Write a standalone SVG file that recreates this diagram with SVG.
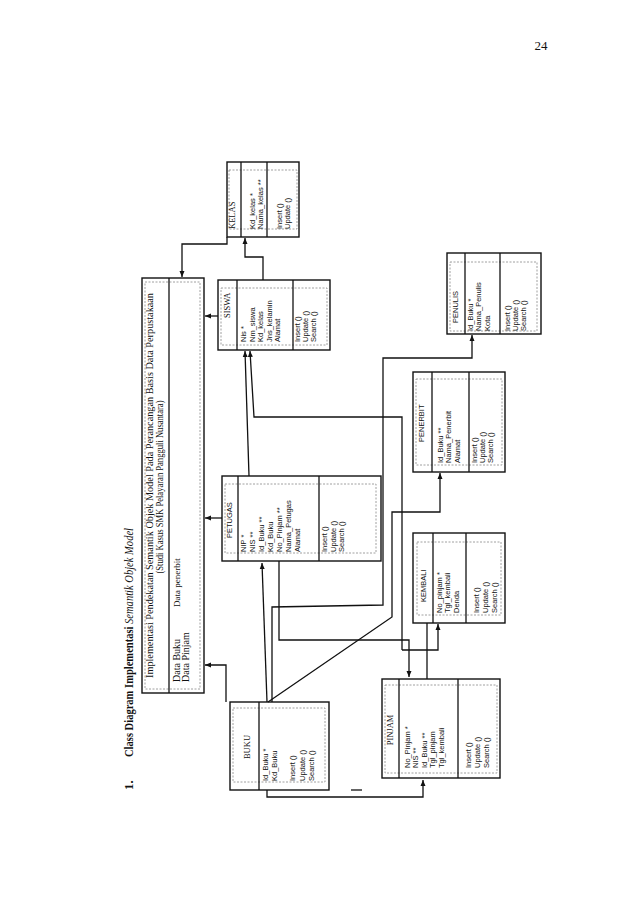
<svg xmlns="http://www.w3.org/2000/svg" width="638" height="903" viewBox="0 0 638 903">
<style>
.box{fill:none;stroke:#111;stroke-width:1.4}
.div{stroke:#111;stroke-width:1.3}
.dash{fill:none;stroke:#888;stroke-width:0.8;stroke-dasharray:2 1.5}
.ln{fill:none;stroke:#111;stroke-width:1.3}
.t{font-family:"Liberation Sans",Arial,sans-serif;font-size:7.5px;fill:#111}
.h{font-family:"Liberation Serif","Times New Roman",serif;font-size:8.5px;fill:#111}
.s{font-family:"Liberation Serif","Times New Roman",serif;fill:#111}
</style>
<defs>
<marker id="ar" markerWidth="6" markerHeight="6" refX="6" refY="3" orient="auto" markerUnits="userSpaceOnUse">
<path d="M0,0.5 L6,3 L0,5.5 z" fill="#111"/>
</marker>
</defs>
<rect width="638" height="903" fill="#fff"/>

<text class="s" x="541" y="50" font-size="13" text-anchor="middle">24</text>

<g id="title">
<text class="s" font-size="13" font-weight="bold" transform="translate(133,790) rotate(-90)">1.</text>
<text class="s" font-size="13" font-weight="bold" transform="translate(133,757) rotate(-90)" textLength="229" lengthAdjust="spacingAndGlyphs">Class Diagram Implementasi <tspan font-style="italic" font-weight="normal">Semantik Objek Model</tspan></text>
</g>

<g id="header">
<rect class="box" x="142" y="278" width="62" height="415"/>
<rect class="dash" x="145" y="282" width="55" height="407"/>
<line class="div" x1="169" y1="278" x2="169" y2="693"/>
<text class="s" font-size="9.5" text-anchor="middle" transform="translate(153,485.5) rotate(-90)" textLength="385" lengthAdjust="spacingAndGlyphs">Implementasi Pendekatan Semantik Objek Model Pada Perancangan Basis Data Perpustakaan</text>
<text class="s" font-size="9.5" text-anchor="middle" transform="translate(163,487) rotate(-90)" textLength="173" lengthAdjust="spacingAndGlyphs">(Studi Kasus SMK Pelayaran Pangguli Nusantara)</text>
<text class="s" font-size="10" transform="translate(180,682) rotate(-90)">Data Buku</text>
<text class="s" font-size="10" transform="translate(189,682) rotate(-90)">Data Pinjam</text>
<text class="s" font-size="9" transform="translate(180,607) rotate(-90)">Data penerbit</text>
</g>

<g id="kelas">
<rect class="box" x="227" y="162" width="72" height="75"/>
<rect class="dash" x="229" y="170" width="68" height="59"/>
<line class="div" x1="241" y1="162" x2="241" y2="237"/>
<line class="div" x1="267" y1="162" x2="267" y2="237"/>
<text class="h" transform="translate(235,229) rotate(-90)">KELAS</text>
<text class="t" transform="translate(255,229) rotate(-90)">Kd_kelas *</text>
<text class="t" transform="translate(263,229) rotate(-90)">Nama_kelas **</text>
<text class="t" transform="translate(282,229) rotate(-90)">Insert ()</text>
<text class="t" transform="translate(290,229) rotate(-90)">Update ()</text>
</g>

<g id="siswa">
<rect class="box" x="218" y="280" width="112" height="70"/>
<rect class="dash" x="221" y="288" width="106" height="57"/>
<line class="div" x1="237" y1="280" x2="237" y2="350"/>
<line class="div" x1="293" y1="280" x2="293" y2="350"/>
<text class="h" transform="translate(230,318) rotate(-90)">SISWA</text>
<text class="t" transform="translate(246,342) rotate(-90)">Nis *</text>
<text class="t" transform="translate(254.5,342) rotate(-90)">Nm_siswa</text>
<text class="t" transform="translate(263,342) rotate(-90)">Kd_kelas</text>
<text class="t" transform="translate(271.5,342) rotate(-90)">Jns_kelamin</text>
<text class="t" transform="translate(280,342) rotate(-90)">Alamat</text>
<text class="t" transform="translate(300,342) rotate(-90)">Insert ()</text>
<text class="t" transform="translate(308,342) rotate(-90)">Update ()</text>
<text class="t" transform="translate(316,342) rotate(-90)">Search ()</text>
</g>

<g id="petugas">
<rect class="box" x="222" y="476" width="159" height="85"/>
<rect class="dash" x="225" y="484" width="151" height="69"/>
<line class="div" x1="238" y1="476" x2="238" y2="561"/>
<line class="div" x1="319" y1="476" x2="319" y2="561"/>
<text class="t" font-size="8" transform="translate(232,538) rotate(-90)">PETUGAS</text>
<text class="t" transform="translate(246,552) rotate(-90)">NIP *</text>
<text class="t" transform="translate(255,552) rotate(-90)">NIS **</text>
<text class="t" transform="translate(264,552) rotate(-90)">Id_Buku **</text>
<text class="t" transform="translate(273,552) rotate(-90)">Kd_Buku</text>
<text class="t" transform="translate(282,552) rotate(-90)">No_Pinjam **</text>
<text class="t" transform="translate(291,552) rotate(-90)">Nama_Petugas</text>
<text class="t" transform="translate(300,552) rotate(-90)">Alamat</text>
<text class="t" transform="translate(327,552) rotate(-90)">Insert ()</text>
<text class="t" transform="translate(336,552) rotate(-90)">Update ()</text>
<text class="t" transform="translate(344,552) rotate(-90)">Search ()</text>
</g>

<g id="buku">
<rect class="box" x="230" y="702" width="99" height="88"/>
<rect class="dash" x="233" y="708" width="92" height="74"/>
<line class="div" x1="259" y1="702" x2="259" y2="790"/>
<text class="h" text-anchor="middle" transform="translate(250,747) rotate(-90)">BUKU</text>
<text class="t" transform="translate(268,781) rotate(-90)">Id_Buku *</text>
<text class="t" transform="translate(277,781) rotate(-90)">Kd_Buku</text>
<text class="t" transform="translate(295,781) rotate(-90)">Insert ()</text>
<text class="t" transform="translate(305,781) rotate(-90)">Update ()</text>
<text class="t" transform="translate(314,781) rotate(-90)">Search ()</text>
</g>

<g id="pinjam">
<rect class="box" x="382" y="679" width="118" height="99"/>
<rect class="dash" x="385" y="685" width="112" height="88"/>
<line class="div" x1="399" y1="679" x2="399" y2="778"/>
<line class="div" x1="458" y1="679" x2="458" y2="778"/>
<text class="h" text-anchor="middle" transform="translate(393,730) rotate(-90)">PINJAM</text>
<text class="t" transform="translate(410,768) rotate(-90)">No_Pinjam *</text>
<text class="t" transform="translate(418,768) rotate(-90)">NIS **</text>
<text class="t" transform="translate(427,768) rotate(-90)">Id_Buku **</text>
<text class="t" transform="translate(435,768) rotate(-90)">Tgl_pinjam</text>
<text class="t" transform="translate(444,768) rotate(-90)">Tgl_kembali</text>
<text class="t" transform="translate(471,768) rotate(-90)">Insert ()</text>
<text class="t" transform="translate(480,768) rotate(-90)">Update ()</text>
<text class="t" transform="translate(489,768) rotate(-90)">Search ()</text>
</g>

<g id="kembali">
<rect class="box" x="413" y="533" width="92" height="90"/>
<rect class="dash" x="417" y="542" width="84" height="73"/>
<line class="div" x1="433" y1="533" x2="433" y2="623"/>
<line class="div" x1="466" y1="533" x2="466" y2="623"/>
<text class="t" font-size="8" transform="translate(426,602) rotate(-90)">KEMBALI</text>
<text class="t" transform="translate(442,613) rotate(-90)">No_pinjam *</text>
<text class="t" transform="translate(450,613) rotate(-90)">Tgl_kembali</text>
<text class="t" transform="translate(459,613) rotate(-90)">Denda</text>
<text class="t" transform="translate(479,613) rotate(-90)">Insert ()</text>
<text class="t" transform="translate(488,613) rotate(-90)">Update ()</text>
<text class="t" transform="translate(497,613) rotate(-90)">Search ()</text>
</g>

<g id="penerbit">
<rect class="box" x="413" y="372" width="92" height="100"/>
<rect class="dash" x="416" y="379" width="86" height="86"/>
<line class="div" x1="432" y1="372" x2="432" y2="472"/>
<line class="div" x1="469" y1="372" x2="469" y2="472"/>
<text class="t" font-size="8" transform="translate(424,442) rotate(-90)">PENERBIT</text>
<text class="t" transform="translate(443,463) rotate(-90)">Id_Buku **</text>
<text class="t" transform="translate(451,463) rotate(-90)">Nama_Penerbit</text>
<text class="t" transform="translate(460,463) rotate(-90)">Alamat</text>
<text class="t" transform="translate(477,463) rotate(-90)">Insert ()</text>
<text class="t" transform="translate(485,463) rotate(-90)">Update ()</text>
<text class="t" transform="translate(493,463) rotate(-90)">Search ()</text>
</g>

<g id="penulis">
<rect class="box" x="447" y="253" width="94" height="81"/>
<rect class="dash" x="450" y="262" width="87" height="69"/>
<line class="div" x1="465" y1="253" x2="465" y2="334"/>
<line class="div" x1="500" y1="253" x2="500" y2="334"/>
<text class="t" font-size="8" transform="translate(458,323) rotate(-90)">PENULIS</text>
<text class="t" transform="translate(473,331) rotate(-90)">Id_Buku *</text>
<text class="t" transform="translate(481,331) rotate(-90)">Nama_Penulis</text>
<text class="t" transform="translate(490,331) rotate(-90)">Kota</text>
<text class="t" transform="translate(510,331) rotate(-90)">Insert ()</text>
<text class="t" transform="translate(518,331) rotate(-90)">Update ()</text>
<text class="t" transform="translate(526,331) rotate(-90)">Search ()</text>
</g>

<g id="connectors">
<polyline class="ln" points="227,237 227,244 182,244 182,277" marker-end="url(#ar)"/>
<polyline class="ln" points="263,280 263,257 245,257 245,238" marker-end="url(#ar)"/>
<polyline class="ln" points="218,316 205,316" marker-end="url(#ar)"/>
<polyline class="ln" points="222,518 205,518" marker-end="url(#ar)"/>
<polyline class="ln" points="226,702 226,665 205,665" marker-end="url(#ar)"/>
<polyline class="ln" points="249,476 245,351" marker-end="url(#ar)"/>
<polyline class="ln" points="402,650 402,417 254,417 250,351" marker-end="url(#ar)"/>
<polyline class="ln" points="402,650 438,650 438,624" marker-end="url(#ar)"/>
<polyline class="ln" points="427,679 427,623"/>
<polyline class="ln" points="279,561 279,640 409,640 409,677" marker-end="url(#ar)"/>
<polyline class="ln" points="267,702 262,563" marker-end="url(#ar)"/>
<polyline class="ln" points="272,702 272,607 383,605 383,358 472,358 472,335" marker-end="url(#ar)"/>
<polyline class="ln" points="268,702 392,617 392,512 440,512 440,473" marker-end="url(#ar)"/>
<polyline class="ln" points="267,790 267,797 423,797 423,780" marker-end="url(#ar)"/>
<line class="ln" x1="351" y1="790" x2="362" y2="790"/>
</g>
</svg>
